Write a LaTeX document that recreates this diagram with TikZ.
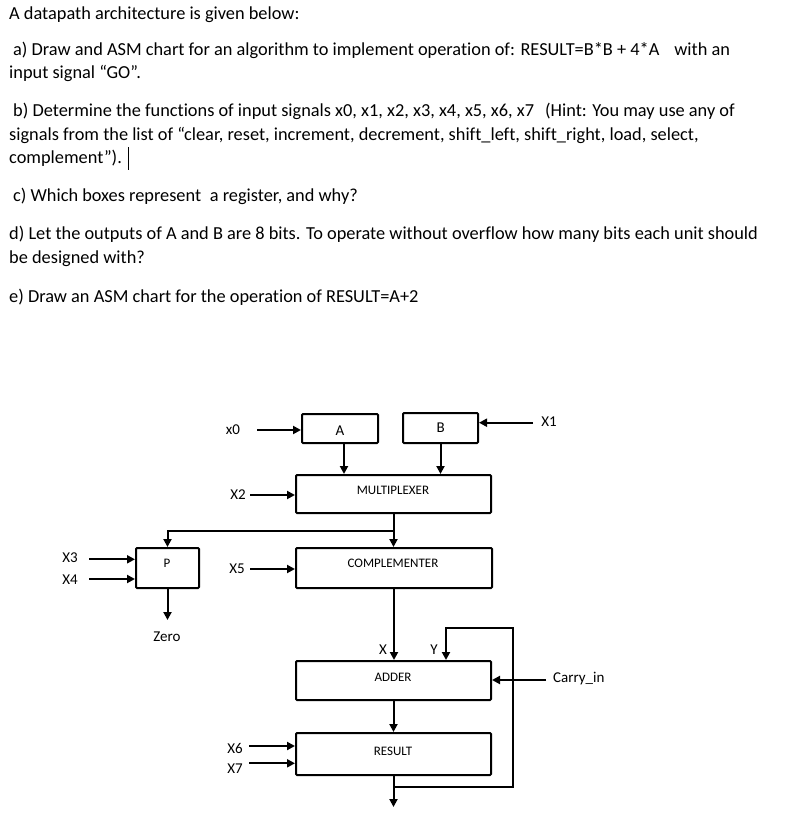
\documentclass[tikz,border=0pt]{standalone}
\usepackage{fontspec}
\setmainfont[Ligatures={NoCommon}]{Carlito}
\usetikzlibrary{arrows.meta}
\begin{document}
\begin{tikzpicture}[x=1pt,y=-1pt,
  para/.style={anchor=base west, inner sep=0pt, font=\fontsize{18.33}{22}\selectfont},
  box/.style={draw, line width=2pt, rounded corners=1pt, inner sep=0pt},
  lbl/.style={inner sep=0pt, font=\fontsize{15}{18}\selectfont},
  btxt/.style={inner sep=0pt, font=\fontsize{13}{16}\selectfont},
  arr/.style={line width=2pt, -{Triangle[length=8pt,width=8pt]}},
  wire/.style={line width=2pt},
]
\useasboundingbox (0,0) rectangle (801,828);
% ---------- question text ----------
\node[para] (t1) at (9,19) {A datapath architecture is given below:};
\node[para] (t2) at (13,55) {a) Draw and ASM chart for an algorithm to implement operation of: RESULT=B*B + 4*A\hspace{15pt}with an};
\node[para] (t3) at (9,78) {input signal “GO”.};
\node[para] (t4) at (13,116) {b) Determine the functions of input signals x0, x1, x2, x3, x4, x5, x6, x7\hspace{11pt}(Hint: You may use any of};
\node[para] (t5) at (9,140) {signals from the list of “clear, reset, increment, decrement, shift\_left, shift\_right, load, select,};
\node[para] (t6) at (9,163) {complement”).};
\draw[line width=1pt] ([xshift=6pt]t6.east |- 0,147) coordinate (cur1) -- ([xshift=6pt]t6.east |- 0,170) coordinate (cur2);
\node[para] (t7) at (13,201) {c) Which boxes represent\hspace{4.5pt} a register, and why?};
\node[para] (t8) at (9,239) {d) Let the outputs of A and B are 8 bits. To operate without overflow how many bits each unit should};
\node[para] (t9) at (9,263) {be designed with?};
\node[para] (t10) at (9,302) {e) Draw an ASM chart for the operation of RESULT=A+2};
% ---------- boxes ----------
\node[box, minimum width=76pt, minimum height=29pt] (A) at (340,428.5) {};
\node[box, minimum width=75pt, minimum height=30pt] (B) at (440.5,428) {};
\node[box, minimum width=195pt, minimum height=38pt] (mux) at (393.5,494) {};
\node[box, minimum width=63pt, minimum height=40pt] (P) at (167.5,568) {};
\node[box, minimum width=196pt, minimum height=40pt] (comp) at (394,568) {};
\node[box, minimum width=195pt, minimum height=39pt] (adder) at (393.5,680.5) {};
\node[box, minimum width=195pt, minimum height=42pt] (result) at (393.5,754) {};
% box texts
\node[lbl] (Atxt) at (340,430.5) {A};
\node[lbl] (Btxt) at (440.7,428) {B};
\node[btxt] (muxtxt) at (393,490) {MULTIPLEXER};
\node[btxt] (Ptxt) at (167,563) {P};
\node[btxt] (comptxt) at (393,563) {COMPLEMENTER};
\node[btxt] (addertxt) at (393,677) {ADDER};
\node[btxt] (resulttxt) at (393,751.5) {RESULT};
% ---------- labels ----------
\node[lbl] (x0) at (233,430) {x0};
\node[lbl] (x1) at (549,422) {X1};
\node[lbl] (x2) at (238,495) {X2};
\node[lbl] (x3) at (70,558) {X3};
\node[lbl] (x4) at (70,580) {X4};
\node[lbl] (x5) at (237,569) {X5};
\node[lbl] (x6) at (235,748) {X6};
\node[lbl] (x7) at (235,769) {X7};
\node[lbl] (zero) at (167,637) {Zero};
\node[lbl] (xin) at (383,650) {X};
\node[lbl] (yin) at (434,650) {Y};
\node[lbl, anchor=base west] (carry) at (553,682) {Carry\_in};
% ---------- connectors ----------
\coordinate (x0s) at (257,430);
\draw[arr] (x0s) -- (x0s -| A.west);
\coordinate (x1s) at (533,422.7);
\draw[arr] (x1s) -- (x1s -| B.east);
\draw[arr] ([xshift=4pt]A.south) -- ([xshift=4pt]A.south |- mux.north);
\draw[arr] (B.south) -- (B.south |- mux.north);
\coordinate (x2s) at (250,495);
\draw[arr] (x2s) -- (x2s -| mux.west);
\coordinate (br) at (393.5,531);
\draw[arr] (mux.south) -- (mux.south |- comp.north);
\draw[arr] (br) -| (P.north);
\coordinate (x3s) at (89,559.3);
\coordinate (x4s) at (89,579);
\draw[arr] (x3s) -- (x3s -| P.west);
\draw[arr] (x4s) -- (x4s -| P.west);
\coordinate (zeroend) at (167.5,620);
\draw[arr] (P.south) -- (zeroend);
\coordinate (x5s) at (250,569);
\draw[arr] (x5s) -- (x5s -| comp.west);
\draw[arr] (comp.south) -- (comp.south |- adder.north);
\coordinate (fb) at (393.5,787);
\coordinate (fbr) at (513,787);
\coordinate (fbt) at (513,628);
\coordinate (yin0) at (446,628);
\draw[arr] (fb) -- (fbr) -- (fbt) -- (yin0) -- (yin0 |- adder.north);
\coordinate (cs) at (546,680);
\draw[arr] (cs) -- (cs -| adder.east);
\draw[arr] (adder.south) -- (adder.south |- result.north);
\coordinate (x6s) at (249,746);
\coordinate (x7s) at (249,763.3);
\draw[arr] (x6s) -- (x6s -| result.west);
\draw[arr] (x7s) -- (x7s -| result.west);
\coordinate (outend) at (393.5,807);
\draw[arr] (result.south) -- (outend);
\end{tikzpicture}
\end{document}
